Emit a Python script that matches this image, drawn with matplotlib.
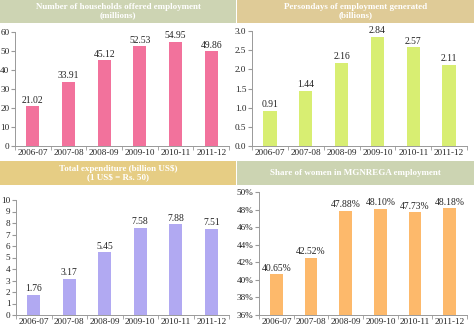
import matplotlib
matplotlib.use("Agg")
import matplotlib.pyplot as plt
from matplotlib.patches import Rectangle
from matplotlib.ticker import FixedLocator

plt.rcParams['font.family'] = ['Liberation Serif', 'DejaVu Serif']

years = ['2006-07', '2007-08', '2008-09', '2009-10', '2010-11', '2011-12']
households = [21.02, 33.91, 45.12, 52.53, 54.95, 49.86]
persondays = [0.91, 1.44, 2.16, 2.84, 2.57, 2.11]
expenditure = [1.76, 3.17, 5.45, 7.58, 7.88, 7.51]
women_share = [40.65, 42.52, 47.88, 48.10, 47.73, 48.18]

W, H = 474, 334
fig = plt.figure(figsize=(W / 100, H / 100), dpi=100)
fig.patch.set_facecolor('white')


def px_axes(left, top, right, bottom):
    return fig.add_axes([left / W, 1 - bottom / H, (right - left) / W, (bottom - top) / H])


def banner(x0, y0, x1, y1, color, text):
    fig.patches.append(Rectangle((x0 / W, 1 - y1 / H), (x1 - x0) / W, (y1 - y0) / H,
                                 transform=fig.transFigure, facecolor=color,
                                 edgecolor='none', zorder=0))
    fig.text((x0 + x1) / 2 / W, 1 - (y0 + y1) / 2 / H, text, ha='center', va='center',
             color='white', fontsize=6.5, fontweight='bold', linespacing=1.05)


def panel(ax, values, color, ylim, yticks, fmt, ylabels, offset):
    x = range(len(years))
    ax.bar(x, values, width=0.37, color=color, zorder=2)
    for xi, v in zip(x, values):
        ax.text(xi, v + offset, fmt.format(v), ha='center', va='bottom',
                fontsize=6.9, color='#222222')
    ax.set_xlim(-0.5, len(years) - 0.5)
    ax.set_ylim(*ylim)
    ax.set_yticks(yticks)
    ax.set_yticklabels(ylabels)
    ax.set_xticks(list(x))
    ax.set_xticklabels(years)
    ax.xaxis.set_minor_locator(FixedLocator([i - 0.5 for i in range(len(years) + 1)]))
    ax.tick_params(axis='x', which='major', length=0, labelsize=6.6, pad=2, colors='#222222')
    ax.tick_params(axis='x', which='minor', length=3, color='#999999', direction='out')
    ax.tick_params(axis='y', length=3, labelsize=6.6, pad=1, color='#999999',
                   labelcolor='#222222')
    for s in ['top', 'right']:
        ax.spines[s].set_visible(False)
    for s in ['left', 'bottom']:
        ax.spines[s].set_color('#999999')
        ax.spines[s].set_linewidth(0.7)
    ax.set_facecolor('none')


banner(0, 0, 236, 23, '#cdd4b3', 'Number of households offered employment\n(millions)')
banner(237, 0, 474, 23, '#dfcb97', 'Persondays of employment generated\n(billions)')
banner(0, 161, 236, 185, '#e6cd84', 'Total expenditure (billion US$)\n(1 US$ = Rs. 50)')
banner(237, 161, 474, 185, '#ccd4b2', 'Share of women in MGNREGA employment')

ax1 = px_axes(15, 32, 229, 146)
panel(ax1, households, '#f2729c', (0, 60), range(0, 61, 10),
      '{:.2f}', [str(v) for v in range(0, 61, 10)], 0.8)

ax2 = px_axes(252, 31, 467, 146)
t2 = [i * 0.5 for i in range(7)]
panel(ax2, persondays, '#d8ee72', (0, 3), t2, '{:.2f}', ['{:.1f}'.format(v) for v in t2], 0.05)

ax3 = px_axes(16, 200, 229, 315)
panel(ax3, expenditure, '#b1a9f2', (0, 10), range(11), '{:.2f}',
      [str(v) for v in range(11)], 0.12)

ax4 = px_axes(259, 192, 467, 315)
t4 = list(range(36, 51, 2))
panel(ax4, women_share, '#fdb96b', (36, 50), t4, '{:.2f}%', ['{}%'.format(v) for v in t4], 0.15)

fig.savefig('out.png', dpi=100)
